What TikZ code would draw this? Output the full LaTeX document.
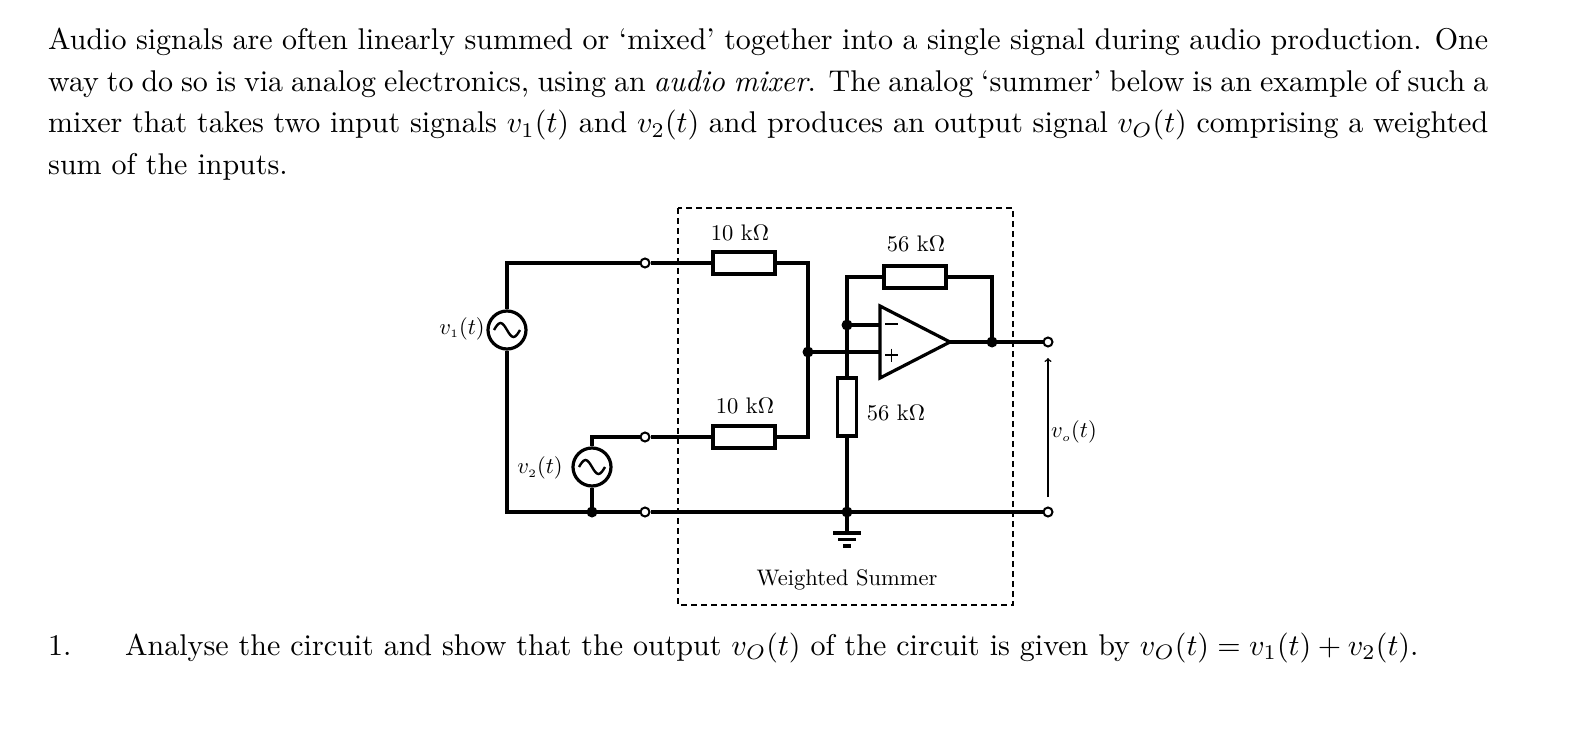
\documentclass[tikz,border=0pt]{standalone}
\begin{document}
\begin{tikzpicture}[x=1pt,y=-1pt,
  wire/.style={line width=3.2pt},
  res/.style={draw,line width=3.2pt,fill=white,minimum width=62pt,minimum height=22pt,inner sep=0pt},
  vres/.style={draw,line width=3.2pt,fill=white,minimum width=19pt,minimum height=58pt,inner sep=0pt},
  src/.style={draw,line width=3.2pt,circle,fill=white,minimum size=38pt,inner sep=0pt},
  term/.style={draw,line width=2pt,circle,fill=white,minimum size=9pt,inner sep=0pt},
  dot/.style={fill,circle,minimum size=11pt,inner sep=0pt},
  lbl/.style={inner sep=0pt}]
\useasboundingbox (0,0) rectangle (1588,738);
% paragraph
\node[anchor=north west,inner sep=0pt] (para) at (48,28)
{\scalebox{3.0}{\parbox{480pt}{\baselineskip=13.85pt
Audio signals are often linearly summed or `mixed' together into a single signal during audio production. One\linebreak
way to do so is via analog electronics, using an \emph{audio mixer}. The analog `summer' below is an example of such a\linebreak
mixer that takes two input signals $v_1(t)$ and $v_2(t)$ and produces an output signal $v_O(t)$ comprising a weighted\linebreak
sum of the inputs.}}};
% dashed box
\draw[line width=1.6pt,dash pattern=on 6pt off 4pt] (678,208) rectangle (1013,605);
% nodes
\node[src] (s1) at (507,330) {};
\node[src] (s2) at (592,467) {};
\node[res] (r1) at (744,263) {};
\node[res] (r2) at (744,437) {};
\node[res] (rf) at (915,277) {};
\node[vres] (rg) at (847,407) {};
\node[term] (t1) at (645,263) {};
\node[term] (t2) at (645,437) {};
\node[term] (t3) at (645,512) {};
\node[term] (to) at (1048,342) {};
\node[term] (tg) at (1048,512) {};
\coordinate (sum) at (808,352);
\coordinate (inv) at (847,325);
\coordinate (gnd) at (847,512);
\coordinate (b2) at (592,512);
\coordinate (out) at (992,342);
\coordinate (tip) at (950,342);
% op-amp
\draw[wire,fill=white] (880,306) -- (tip) -- (880,378) -- cycle;
\draw[line width=1.8pt] (885,324) -- (898,324) (885,355) -- (898,355) (891.5,348.5) -- (891.5,361.5);
% wires
\draw[wire] (t1) -- (r1.west) (r1.east) -| (sum) |- (r2.east) (r2.west) -- (t2);
\draw[wire] (t1) -| (s1.north) (s1.south) |- (b2) -- (t3);
\draw[wire] (t2) -| (s2.north) (s2.south) -- (b2);
\draw[wire] (t3) -- (tg);
\draw[wire] (sum) -- (880,352);
\draw[wire] (inv) -- (880,325);
\draw[wire] (rf.west) -| (inv) -- (rg.north) (rg.south) -- (gnd);
\draw[wire] (rf.east) -| (out) (tip) -- (to);
\draw[wire] (gnd) -- (847,533);
\draw[wire] (833,533) -- (861,533) (838,539.5) -- (856,539.5) (843,546) -- (851,546);
% sine marks
\foreach \s in {s1,s2}
  \draw[line width=2.4pt,shift={(\s.center)}] (-13,0) sin (-6.5,-7) cos (0,0) sin (6.5,7) cos (13,0);
\foreach \p in {sum,inv,gnd,b2,out} \node[dot] at (\p) {};
% vo arrow
\draw[line width=1.5pt,->] (1048,497) -- (1048,358);
% labels
\node[lbl] (l1) at (740,233) {\scalebox{2.25}{10 k$\Omega$}};
\node[lbl] (l2) at (916,244) {\scalebox{2.25}{56 k$\Omega$}};
\node[lbl] (l3) at (745,406) {\scalebox{2.25}{10 k$\Omega$}};
\node[lbl] (l4) at (896,413) {\scalebox{2.25}{56 k$\Omega$}};
\node[lbl] (lv1) at (462,329) {\scalebox{2.25}{$v_{\scriptscriptstyle 1}(t)$}};
\node[lbl] (lv2) at (540,468) {\scalebox{2.25}{$v_{\scriptscriptstyle 2}(t)$}};
\node[lbl] (lvo) at (1074,432) {\scalebox{2.25}{$v_{\scriptscriptstyle o}(t)$}};
\node[lbl] (ws) at (847,580) {\scalebox{2.25}{Weighted Summer}};
% question
\node[anchor=base west,inner sep=0pt] (qn) at (48,655) {\scalebox{3.0}{1.}};
\node[anchor=base west,inner sep=0pt] (q) at (125,655) {\scalebox{3.0}{Analyse the circuit and show that the output $v_O(t)$ of the circuit is given by $v_O(t)=v_1(t)+v_2(t)$.}};
\end{tikzpicture}
\end{document}
